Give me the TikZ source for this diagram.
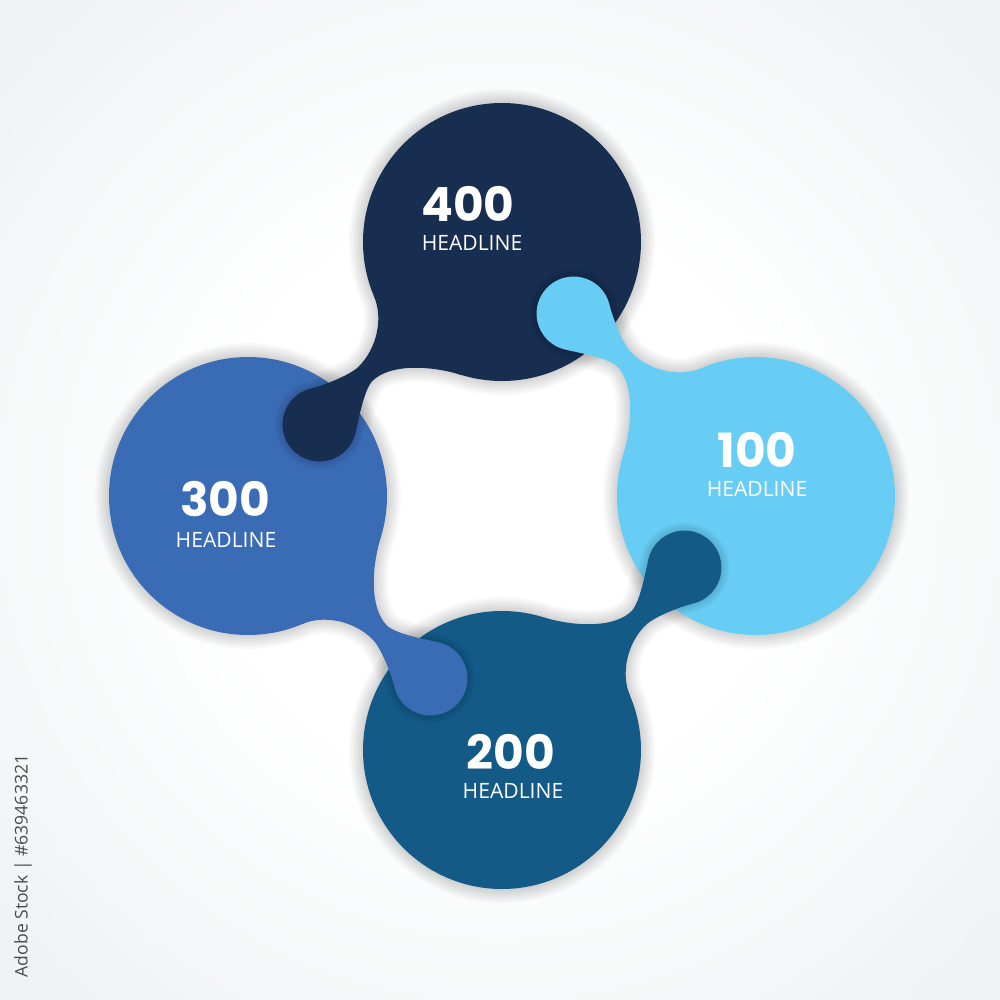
\documentclass[tikz,border=0pt]{standalone}
\usepackage{fontspec}
\setsansfont{Open Sans}
\newfontfamily\numfont{Poppins}
\usetikzlibrary{calc}

\definecolor{col400}{HTML}{172E51}
\definecolor{col100}{HTML}{68CDF4}
\definecolor{col200}{HTML}{135A87}
\definecolor{col300}{HTML}{3A6BB5}
\definecolor{bgmid}{HTML}{F1F4F5}
\definecolor{bgedge}{HTML}{E4E9EB}
\definecolor{bgcorner}{HTML}{D6DCDF}
\pgfdeclareradialshading{backdrop}{\pgfpoint{0bp}{0bp}}{color(0bp)=(white); color(10bp)=(white); color(22bp)=(bgmid); color(36bp)=(bgedge); color(50bp)=(bgcorner)}

\newcommand\blobR{139}
\newcommand\knobR{37}
\newcommand\knobD{258}
\newcommand\knobA{58}
\newcommand\neckR{190}
\newcommand\neckOut{4}
\newcommand\neckIn{2}
\newcommand\flareOut{22}
\newcommand\flareIn{28}

% the part of a blob outside its circle: neck and knob
\newcommand\tailpath[2]{%
  ($(#1)+({#2-\flareIn}:\blobR)$) -- ($(#1)+({#2-\flareIn}:\blobR-8)$)
  arc[start angle={#2-\flareIn}, end angle={#2+\flareOut}, radius={\blobR-8}]
  -- ($(#1)+({#2+\flareOut}:\blobR)$)
  .. controls +({#2+\flareOut-90}:24) and ($(#1)+({#2+\neckOut}:\neckR)+({#2+180}:26)$) ..
  ($(#1)+({#2+\neckOut}:\neckR)$)
  .. controls +(#2:12) and ($(#1)+(#2:\knobD)+({#2+180-\knobA}:\knobR)+({#2-90-\knobA}:12)$) ..
  ($(#1)+(#2:\knobD)+({#2+180-\knobA}:\knobR)$)
  arc[start angle={#2+180-\knobA}, end angle={#2-180+\knobA}, radius=\knobR]
  .. controls +({#2+90+\knobA}:12) and ($(#1)+({#2-\neckIn}:\neckR)+(#2:12)$) ..
  ($(#1)+({#2-\neckIn}:\neckR)$)
  .. controls +({#2+180}:24) and ($(#1)+({#2-\flareIn}:\blobR)+({#2-\flareIn+90}:34)$) ..
  ($(#1)+({#2-\flareIn}:\blobR)$) -- cycle}

% soft shadow: #1 = rings, #2 = opacity of a ring, #3 = shift, #4 = path
\newcommand\softshadow[4]{%
  \foreach \k in {1,...,#1}{
    \pgfmathsetmacro\lw{\k*0.4}
    \path[draw=black, draw opacity=#2, line width=\lw mm, line join=round,
      shift={#3}] #4;
  }}

\tikzset{
  num/.style={font=\numfont\bfseries\fontsize{13.4}{15}\selectfont, text=white, inner sep=0pt},
  head/.style={font=\sffamily\fontsize{6}{7}\selectfont, text=white, inner sep=0pt}
}

\begin{document}
\begin{tikzpicture}[x=0.01cm,y=-0.01cm]
  \useasboundingbox (0,0) rectangle (1000,1000);
  \begin{scope}
    \clip (0,0) rectangle (1000,1000);
    \shade[shading=backdrop] (-207,-207) rectangle (1207,1207);
  \end{scope}

  \coordinate (mid) at (502,496);
  \foreach \n/\ang in {400/270, 100/0, 200/90, 300/180}
    \coordinate (c\n) at ($(mid)+(\ang:254)$);

  \foreach \n/\ang in {400/270, 100/0, 200/90, 300/180}{
    \pgfmathsetmacro\ta{\ang+225}
    \softshadow{7}{0.024}{(3,7)}{(c\n) circle[radius=\blobR] \tailpath{c\n}{\ta}}
  }
  \foreach \n in {400,100,200,300}
    \fill[col\n] (c\n) circle[radius=\blobR];
  \foreach \n/\ang/\nx in {400/270/300, 100/0/400, 200/90/100, 300/180/200}{
    \pgfmathsetmacro\ta{\ang+225}
    \begin{scope}
      \clip (c\nx) circle[radius=\blobR];
      \softshadow{4}{0.03}{(1,4)}{\tailpath{c\n}{\ta}}
    \end{scope}
    \fill[col\n] \tailpath{c\n}{\ta};
  }

  \node[num] (n400) at (468,204) {400};
  \node[head] (h400) at (472,243) {HEADLINE};
  \node[num] (n100) at (757,450) {100};
  \node[head] (h100) at (757,489) {HEADLINE};
  \node[num] (n200) at (511,752) {200};
  \node[head] (h200) at (513,791) {HEADLINE};
  \node[num] (n300) at (225,499) {300};
  \node[head] (h300) at (226,540) {HEADLINE};

  \node[rotate=90, font=\sffamily\fontsize{5}{6}\selectfont, text=black!70, inner sep=0pt]
    (stockid) at (23,866) {Adobe Stock | \#639463321};
\end{tikzpicture}
\end{document}
